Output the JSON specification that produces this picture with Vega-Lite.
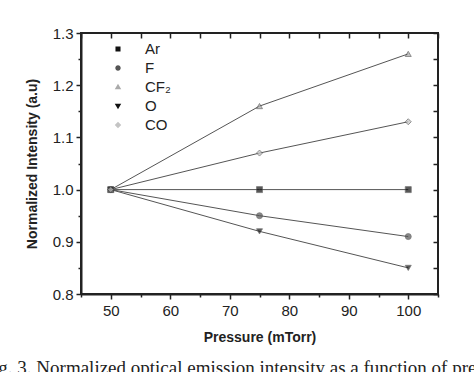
{
  "$schema": "https://vega.github.io/schema/vega-lite/v6.json",
  "width": 357,
  "height": 261,
  "autosize": {"type": "none"},
  "padding": {"left": 81, "top": 33, "right": 36, "bottom": 78},
  "background": "white",
  "title": {"text": "March 2014", "anchor": "start", "frame": "group", "dx": 315, "offset": 21, "baseline": "alphabetic", "font": "Liberation Sans", "fontSize": 15, "fontWeight": "normal", "color": "#222"},
  "config": {
    "view": {"stroke": null},
    "font": "Liberation Sans",
    "axis": {"domainColor": "#222", "tickColor": "#222", "labelColor": "#222", "titleColor": "#222", "grid": false, "labelFont": "Liberation Sans", "titleFont": "Liberation Sans"}
  },
  "data": {"values": [
    {"series": "Ar", "p": 50, "v": 1.0}, {"series": "Ar", "p": 75, "v": 1.0}, {"series": "Ar", "p": 100, "v": 1.0},
    {"series": "F", "p": 50, "v": 1.0}, {"series": "F", "p": 75, "v": 0.95}, {"series": "F", "p": 100, "v": 0.91},
    {"series": "CF₂", "p": 50, "v": 1.0}, {"series": "CF₂", "p": 75, "v": 1.16}, {"series": "CF₂", "p": 100, "v": 1.26},
    {"series": "O", "p": 50, "v": 1.0}, {"series": "O", "p": 75, "v": 0.92}, {"series": "O", "p": 100, "v": 0.85},
    {"series": "CO", "p": 50, "v": 1.0}, {"series": "CO", "p": 75, "v": 1.07}, {"series": "CO", "p": 100, "v": 1.13}
  ]},
  "resolve": {"scale": {"shape": "independent", "fill": "independent"}, "axis": {"x": "independent", "y": "independent"}},
  "layer": [
    {
      "mark": {"type": "rect", "filled": false, "stroke": "#222", "strokeWidth": 2},
      "encoding": {
        "x": {"datum": 45, "type": "quantitative", "axis": {"orient": "top", "values": [45, 50, 55, 60, 65, 70, 75, 80, 85, 90, 95, 100, 105], "tickSize": 5, "tickWidth": 1.5, "offset": -5, "domain": false, "labels": false, "title": null}},
        "x2": {"datum": 105},
        "y": {"datum": 0.8, "type": "quantitative", "axis": {"orient": "right", "values": [0.8, 0.85, 0.9, 0.95, 1.0, 1.05, 1.1, 1.15, 1.2, 1.25, 1.3], "tickSize": 5, "tickWidth": 1.5, "offset": -5, "domain": false, "labels": false, "title": null}},
        "y2": {"datum": 1.3}
      }
    },
    {
      "mark": {"type": "line", "color": "#555", "strokeWidth": 1},
      "encoding": {
        "x": {"field": "p", "type": "quantitative", "scale": {"domain": [45, 105], "nice": false, "zero": false},
          "axis": {"orient": "bottom", "values": [50, 60, 70, 80, 90, 100], "tickSize": 5, "tickWidth": 1.5, "domainWidth": 2, "labelPadding": 4, "labelFontSize": 15, "title": "Pressure (mTorr)", "titleFontSize": 14, "titleFontWeight": "bold", "titlePadding": 12}},
        "y": {"field": "v", "type": "quantitative", "scale": {"domain": [0.8, 1.3], "nice": false, "zero": false},
          "axis": {"orient": "left", "values": [0.8, 0.9, 1.0, 1.1, 1.2, 1.3], "format": ".1f", "tickSize": 5, "tickWidth": 1.5, "domainWidth": 2, "labelPadding": 3, "labelFontSize": 15, "title": "Normalized Intensity (a.u)", "titleFontSize": 14, "titleFontWeight": "bold", "titlePadding": 13}},
        "detail": {"field": "series"}
      }
    },
    {
      "mark": {"type": "point", "filled": true, "size": 36, "stroke": "#444", "strokeWidth": 0.8},
      "encoding": {
        "x": {"field": "p", "type": "quantitative",
          "axis": {"orient": "bottom", "values": [45, 55, 65, 75, 85, 95, 105], "tickSize": 3, "tickWidth": 1.5, "labels": false, "domain": false,
            "title": "Fig. 3. Normalized optical emission intensity as a function of pressure", "titleFont": "Liberation Serif", "titleFontSize": 19, "titleFontWeight": "normal", "titleAnchor": "start", "titleX": -99, "titleY": 64, "titleBaseline": "top", "titleAlign": "left", "titleLimit": 1000}},
        "y": {"field": "v", "type": "quantitative",
          "axis": {"orient": "left", "values": [0.85, 0.95, 1.05, 1.15, 1.25], "tickSize": 3, "tickWidth": 1.5, "labels": false, "domain": false, "title": null}},
        "shape": {"field": "series", "type": "nominal", "scale": {"domain": ["Ar", "F", "CF₂", "O", "CO"], "range": ["square", "circle", "triangle-up", "triangle-down", "diamond"]}, "legend": null},
        "fill": {"field": "series", "type": "nominal", "scale": {"domain": ["Ar", "F", "CF₂", "O", "CO"], "range": ["#111", "#555", "#aaa", "#111", "#c4c4c4"]}, "legend": null},
        "size": {"value": 36}
      }
    },
    {
      "mark": {"type": "point", "filled": false, "opacity": 0, "size": 324, "strokeWidth": 1.3},
      "encoding": {
        "x": {"field": "p", "type": "quantitative", "axis": null},
        "y": {"field": "v", "type": "quantitative", "axis": null},
        "stroke": {"value": "#777"},
        "shape": {"field": "series", "type": "nominal", "scale": {"domain": ["Ar", "F", "CF₂", "O", "CO"], "range": [
          "M-1.3,0L-0.4,0M0.4,0L1.3,0M-0.28,-0.28L0.28,-0.28L0.28,0.28L-0.28,0.28Z",
          "M-1.3,0L-0.4,0M0.4,0L1.3,0M0.3,0A0.3,0.3,0,1,1,-0.3,0A0.3,0.3,0,1,1,0.3,0Z",
          "M-1.3,0L-0.4,0M0.4,0L1.3,0M0,-0.36L0.36,0.26L-0.36,0.26Z",
          "M-1.3,0L-0.4,0M0.4,0L1.3,0M0,0.36L0.36,-0.26L-0.36,-0.26Z",
          "M-1.3,0L-0.4,0M0.4,0L1.3,0M0,-0.36L0.36,0L0,0.36L-0.36,0Z"
        ]},
          "legend": {"title": null, "orient": "none", "legendX": 27, "legendY": 6, "symbolSize": 324, "symbolStrokeColor": "#777", "symbolStrokeWidth": 1.3, "symbolOpacity": 1, "labelFontSize": 15, "labelFont": "Liberation Sans", "labelColor": "#222", "rowPadding": 1, "labelOffset": 17}},
        "fill": {"field": "series", "type": "nominal", "scale": {"domain": ["Ar", "F", "CF₂", "O", "CO"], "range": ["#111", "#555", "#aaa", "#111", "#c4c4c4"]},
          "legend": {"title": null, "orient": "none", "legendX": 27, "legendY": 6, "symbolSize": 324, "symbolStrokeColor": "#777", "symbolStrokeWidth": 1.3, "symbolOpacity": 1, "labelFontSize": 15, "labelFont": "Liberation Sans", "labelColor": "#222", "rowPadding": 1, "labelOffset": 17}}
      }
    }
  ]
}
